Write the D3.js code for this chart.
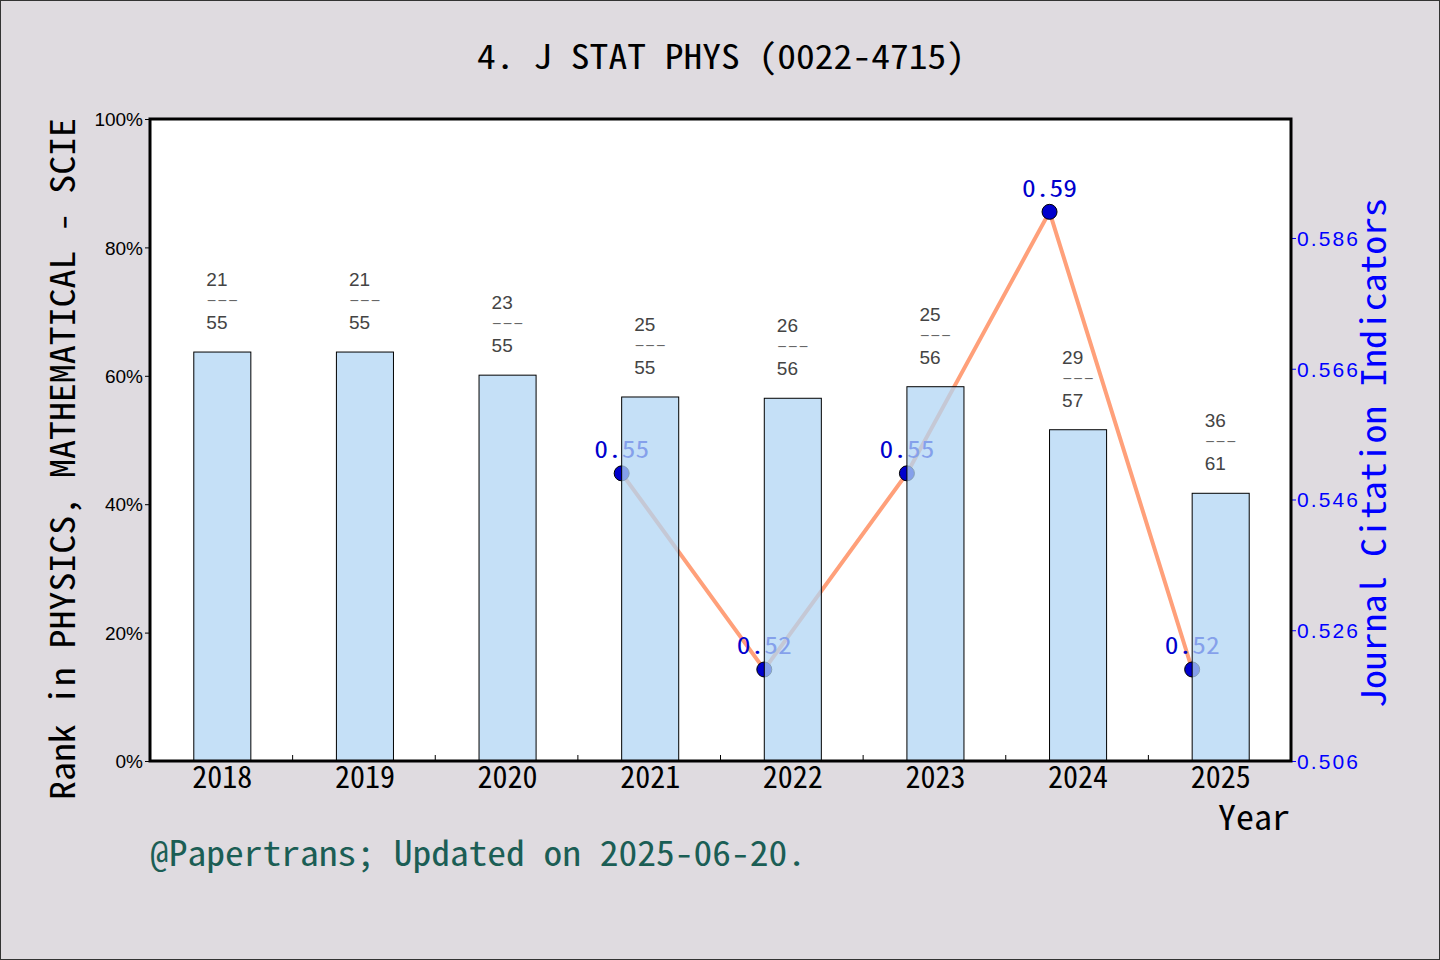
<!DOCTYPE html>
<html>
<head>
<meta charset="utf-8">
<script src="https://cdn.jsdelivr.net/npm/d3@7"></script>
<style>
  body { margin: 0; background: #dfdbe0; }
  svg { display: block; }
</style>
</head>
<body>
<svg id="chart" width="1440" height="960"></svg>
<script>
// data
const years = ["2018", "2019", "2020", "2021", "2022", "2023", "2024", "2025"]
const rankPct = [63.7, 63.7, 60.1, 56.7, 56.5, 58.3, 51.6, 41.7]
const rankNum = [21, 21, 23, 25, 26, 25, 29, 36]
const rankTotal = [55, 55, 55, 55, 56, 56, 57, 61]
const jciYears = ["2021", "2022", "2023", "2024", "2025"]
const jciValues = [0.55, 0.52, 0.55, 0.59, 0.52]
const leftTicks = [0, 20, 40, 60, 80, 100]
const rightTicks = [0.506, 0.526, 0.546, 0.566, 0.586]

const width = 1440
const height = 960
const margin = {top: 119, left: 150, right: 149, bottom: 199}
const mono = '"Noto Sans Mono CJK SC", "DejaVu Sans Mono", monospace'
const sans = '"Liberation Sans", Arial, sans-serif'

const svg = d3.select("#chart")

svg.append("rect")
    .attr("x", 0.5).attr("y", 0.5)
    .attr("width", width - 1).attr("height", height - 1)
    .attr("fill", "#dfdbe0").attr("stroke", "#333").attr("stroke-width", 1)

const x = d3.scaleBand().domain(years).range([margin.left, width - margin.right]).padding(0)
const yL = d3.scaleLinear().domain([0, 100]).range([height - margin.bottom, margin.top])
const yR = d3.scaleLinear().domain([0.506, 0.6042]).range([height - margin.bottom, margin.top])
const barW = x.bandwidth() * 0.4
const cx = d => x(d) + x.bandwidth() / 2 + 1

// plot background
svg.append("rect")
    .attr("x", margin.left).attr("y", margin.top)
    .attr("width", width - margin.left - margin.right)
    .attr("height", height - margin.top - margin.bottom)
    .attr("fill", "#fff")

// jci line + points (drawn under bars)
const px = d => cx(d) - barW / 2
const line = d3.line().x((d, i) => px(jciYears[i])).y(d => yR(d))
svg.append("path")
    .datum(jciValues)
    .attr("d", line)
    .attr("fill", "none")
    .attr("stroke", "#ffa07a")
    .attr("stroke-width", 4)

svg.selectAll(".pt").data(jciValues).join("circle")
    .attr("class", "pt")
    .attr("cx", (d, i) => px(jciYears[i]))
    .attr("cy", d => yR(d))
    .attr("r", 7.5)
    .attr("fill", "#0000cd")
    .attr("stroke", "#000").attr("stroke-width", 1)

svg.selectAll(".ptlab").data(jciValues).join("text")
    .attr("class", "ptlab")
    .attr("x", (d, i) => px(jciYears[i]))
    .attr("y", d => yR(d) - 15)
    .attr("text-anchor", "middle")
    .attr("font-family", mono).attr("font-size", 24)
    .attr("fill", "#0000cd")
    .attr("textLength", 55).attr("lengthAdjust", "spacingAndGlyphs")
    .text(d => d.toFixed(2))

// bars on top, semi transparent
svg.selectAll(".bar").data(rankPct).join("rect")
    .attr("class", "bar")
    .attr("x", (d, i) => cx(years[i]) - barW / 2)
    .attr("y", d => yL(d))
    .attr("width", barW)
    .attr("height", d => yL(0) - yL(d))
    .attr("fill", "rgb(178,214,244)").attr("fill-opacity", 0.75)
    .attr("stroke", "#000").attr("stroke-width", 1)

// rank labels above bars
const lab = svg.selectAll(".rl").data(rankPct).join("g")
    .attr("class", "rl")
    .attr("transform", (d, i) => `translate(${cx(years[i]) - 16},${yL(d)})`)
    .attr("font-family", sans).attr("font-size", 19).attr("fill", "#444")
lab.append("text").attr("y", -66).text((d, i) => rankNum[i])
lab.append("text").attr("y", -48).attr("fill", "#666").attr("font-size", 13)
    .attr("textLength", 32).attr("lengthAdjust", "spacingAndGlyphs").text("---")
lab.append("text").attr("y", -23).text((d, i) => rankTotal[i])

// axes
const axL = svg.append("g")
    .attr("transform", `translate(${margin.left},0)`)
    .call(d3.axisLeft(yL).tickValues(leftTicks).tickSize(5).tickFormat(d => d + "%"))
axL.select(".domain").remove()
axL.selectAll("text").attr("font-family", sans).attr("font-size", 19).attr("fill", "#000").attr("dy", "0.35em").attr("x", -7)

const axR = svg.append("g")
    .attr("transform", `translate(${width - margin.right},0)`)
    .call(d3.axisRight(yR).tickValues(rightTicks).tickSize(5).tickFormat(d3.format(".3f")))
axR.select(".domain").remove()
axR.selectAll("line").attr("stroke", "#0000ff")
axR.selectAll("text").attr("font-family", sans).attr("font-size", 21).attr("fill", "#0000ff")
    .attr("x", 6).attr("dy", "0.35em")
    .attr("textLength", 61).attr("lengthAdjust", "spacing")

const axB = svg.append("g")
    .attr("transform", `translate(1,${height - margin.bottom})`)
    .call(d3.axisBottom(x).tickSize(0))
axB.select(".domain").remove()
axB.selectAll("text").attr("font-family", mono).attr("font-size", 30).attr("fill", "#000")
    .attr("dy", 0).attr("y", 27)
    .attr("textLength", 60).attr("lengthAdjust", "spacingAndGlyphs")

// small inner ticks on category boundaries
svg.selectAll(".xt").data(years.slice(1)).join("line")
    .attr("class", "xt")
    .attr("x1", d => x(d)).attr("x2", d => x(d))
    .attr("y1", yL(0)).attr("y2", yL(0) - 6)
    .attr("stroke", "#000")

// frame
svg.append("rect")
    .attr("x", margin.left).attr("y", margin.top)
    .attr("width", width - margin.left - margin.right)
    .attr("height", height - margin.top - margin.bottom)
    .attr("fill", "none").attr("stroke", "#000").attr("stroke-width", 3)

// texts
svg.append("text")
    .attr("x", 721).attr("y", 69)
    .attr("text-anchor", "middle")
    .attr("font-family", mono).attr("font-size", 34)
    .attr("textLength", 488).attr("lengthAdjust", "spacingAndGlyphs")
    .text("4. J STAT PHYS (0022-4715)")

svg.append("text")
    .attr("transform", "translate(75,459) rotate(-90)")
    .attr("text-anchor", "middle")
    .attr("font-family", mono).attr("font-size", 34)
    .attr("textLength", 682).attr("lengthAdjust", "spacingAndGlyphs")
    .text("Rank in PHYSICS, MATHEMATICAL - SCIE")

svg.append("text")
    .attr("transform", "translate(1386,453) rotate(-90)")
    .attr("text-anchor", "middle")
    .attr("font-family", mono).attr("font-size", 34)
    .attr("fill", "#0000ff")
    .attr("textLength", 510).attr("lengthAdjust", "spacingAndGlyphs")
    .text("Journal Citation Indicators")

svg.append("text")
    .attr("x", 1290).attr("y", 830)
    .attr("text-anchor", "end")
    .attr("font-family", mono).attr("font-size", 34)
    .attr("textLength", 72).attr("lengthAdjust", "spacingAndGlyphs")
    .text("Year")

svg.append("text")
    .attr("x", 150).attr("y", 866)
    .attr("font-family", mono).attr("font-size", 35)
    .attr("fill", "#1b5e55")
    .attr("textLength", 656).attr("lengthAdjust", "spacingAndGlyphs")
    .text("@Papertrans; Updated on 2025-06-20.")
</script>
</body>
</html>
